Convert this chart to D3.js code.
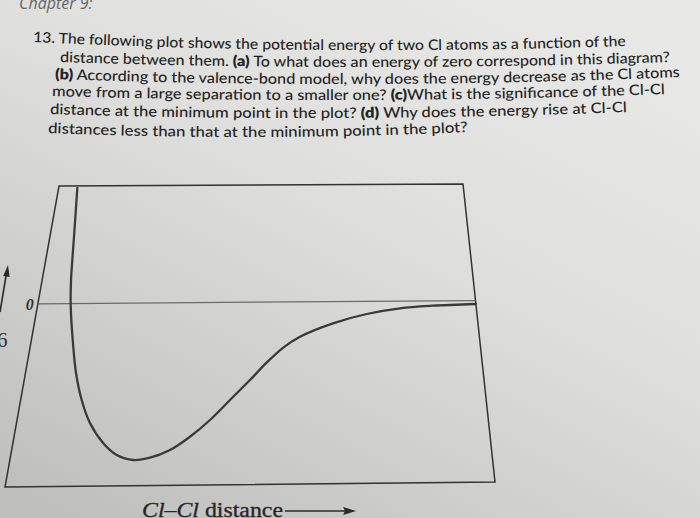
<!DOCTYPE html>
<html>
<head>
<meta charset="utf-8">
<script src="https://cdn.jsdelivr.net/npm/d3@7"></script>
<style>
  html, body { margin: 0; padding: 0; background: #d8d8d6; overflow: hidden; }
  svg { display: block; }
</style>
</head>
<body>
<svg id="chart" width="700" height="518"></svg>
<script>
// ---------------- data (arbitrary units) ----------------
const distance = [0.462, 0.577, 0.626, 0.671, 0.755, 0.924, 1.107, 1.315, 1.56, 1.897, 2.206, 2.562,
                  2.904, 3.306, 3.702, 4.101, 4.504, 4.916, 5.267, 5.627, 5.996, 6.737, 7.503, 8.265, 9.02, 10];
const energy   = [1.768, 1.018, 0.666, 0.361, -0.022, -0.558, -1.064, -1.479, -1.833, -2.145, -2.327, -2.406,
                  -2.373, -2.258, -2.057, -1.803, -1.499, -1.195, -0.93, -0.70, -0.535, -0.333, -0.194, -0.110, -0.074, -0.052];
const distanceDomain = [0, 10];
const energyDomain = [1.8, -2.8];
const zeroLevel = [0];
const xLabel = ["Cl–Cl", " distance"];
const yTickLabels = ["0"];
const header = "Chapter 9:";
const questionLines = [
  [["13. The following plot shows the potential energy of two Cl atoms as a function of the", false]],
  [["distance between them. ", false], ["(a)", true], [" To what does an energy of zero correspond in this diagram?", false]],
  [["(b)", true], [" According to the valence-bond model, why does the energy decrease as the Cl atoms", false]],
  [["move from a large separation to a smaller one? ", false], ["(c)", true], ["What is the significance of the Cl-Cl", false]],
  [["distance at the minimum point in the plot? ", false], ["(d)", true], [" Why does the energy rise at Cl-Cl", false]],
  [["distances less than that at the minimum point in the plot?", false]]
];

// ---------------- layout ----------------
const svg = d3.select("#chart");
const W = 700, H = 518;

// page background (photographed paper)
const defs = svg.append("defs");
const g1 = defs.append("linearGradient").attr("id", "paper")
  .attr("x1", "0.8").attr("y1", "0").attr("x2", "0.1").attr("y2", "1");
g1.append("stop").attr("offset", "0").attr("stop-color", "#e8e8e6");
g1.append("stop").attr("offset", "0.4").attr("stop-color", "#dfdfdd");
g1.append("stop").attr("offset", "1").attr("stop-color", "#bfbfbd");
svg.append("rect").attr("width", W).attr("height", H).attr("fill", "url(#paper)");

// header (cut off at the top of the photo)
svg.append("text").attr("x", 19).attr("y", 9)
  .attr("font-family", "Open Sans, sans-serif").attr("font-style", "italic")
  .attr("font-size", 16).attr("fill", "#666").text(header);

// question text, following the slight curl of the page
const lineGeom = [
  {x0: 33, x1: 626, y0: 42, y1: 46, ym: 50},
  {x0: 60, x1: 670, y0: 62, y1: 62, ym: 67},
  {x0: 55, x1: 680, y0: 79, y1: 77, ym: 84},
  {x0: 52, x1: 665, y0: 96, y1: 94, ym: 100},
  {x0: 50, x1: 627, y0: 114, y1: 112, ym: 118},
  {x0: 48, x1: 468, y0: 133, y1: 132, ym: 137}
];
questionLines.forEach((segs, i) => {
  const g = lineGeom[i];
  const yc = 2 * g.ym - (g.y0 + g.y1) / 2;
  const xc = (g.x0 + g.x1) / 2;
  const p = d3.path();
  p.moveTo(g.x0, g.y0);
  p.quadraticCurveTo(xc, yc, g.x1, g.y1);
  defs.append("path").attr("id", "ql" + i).attr("d", p.toString());
  const t = svg.append("text")
    .attr("font-family", "Lato, 'Open Sans', sans-serif")
    .attr("font-size", 14.6).attr("fill", "#242424")
    .attr("font-weight", 500);
  const tp = t.append("textPath").attr("href", "#ql" + i)
    .attr("textLength", g.x1 - g.x0).attr("lengthAdjust", "spacingAndGlyphs");
  segs.forEach(([s, b]) => {
    tp.append("tspan").attr("font-weight", b ? 800 : 500).text(s);
  });
});

// ---------------- chart: scales + perspective of the photographed box ----------------
const x = d3.scaleLinear().domain(distanceDomain).range([0, 1]);
const y = d3.scaleLinear().domain(energyDomain).range([0, 1]);
const TL = [59, 186], TR = [463, 184], BL = [5, 487], BR = [495, 482];
function proj(d, e) {
  const u = x(d), v = y(e);
  const px = (1 - u) * (1 - v) * TL[0] + u * (1 - v) * TR[0] + (1 - u) * v * BL[0] + u * v * BR[0];
  const py = (1 - u) * (1 - v) * TL[1] + u * (1 - v) * TR[1] + (1 - u) * v * BL[1] + u * v * BR[1];
  return [px, py];
}

const chart = svg.append("g");

// frame
const [d0, d1] = distanceDomain, [eT, eB] = energyDomain;
const frame = [[d0, eT], [d1, eT], [d1, eB], [d0, eB]].map(([d, e]) => proj(d, e));
chart.append("path")
  .attr("d", d3.line()(frame) + "Z")
  .attr("fill", "none").attr("stroke", "#333").attr("stroke-width", 1.5);

// zero line
zeroLevel.forEach(z => {
  chart.append("path")
    .attr("d", d3.line()([proj(d0, z), proj(d1, z)]))
    .attr("fill", "none").attr("stroke", "#6b6b6b").attr("stroke-width", 1.3);
});

// potential energy curve
const pts = distance.map((d, i) => proj(d, energy[i]));
chart.append("path")
  .attr("d", d3.line().curve(d3.curveCatmullRom.alpha(0.5))(pts))
  .attr("fill", "none").attr("stroke", "#3a3a3a").attr("stroke-width", 2.3)
  .attr("stroke-linecap", "round");

// y tick label "0"
const z0 = proj(d0, zeroLevel[0]);
svg.append("text").attr("x", z0[0] - 4).attr("y", z0[1] + 6)
  .attr("text-anchor", "end")
  .attr("font-family", "'Liberation Serif', serif").attr("font-style", "italic")
  .attr("font-weight", "bold").attr("font-size", 16).attr("fill", "#333")
  .text(yTickLabels[0]);

// y-axis arrow (cut off at the left edge of the photo)
svg.append("line").attr("x1", 0).attr("y1", 312).attr("x2", 6.5).attr("y2", 273)
  .attr("stroke", "#2a2a2a").attr("stroke-width", 1.6);
svg.append("path").attr("d", "M8,265 L3.2,276 L9.6,277 Z").attr("fill", "#2a2a2a");
// partly visible glyph of the y-axis title
svg.append("text").attr("x", -3).attr("y", 347)
  .attr("font-family", "'Liberation Serif', serif").attr("font-size", 21).attr("fill", "#333")
  .text("6");

// x-axis label + arrow
const xl = svg.append("text").attr("x", 142).attr("y", 517)
  .attr("font-family", "'Liberation Serif', serif").attr("font-size", 20).attr("fill", "#262626")
  .attr("stroke", "#262626").attr("stroke-width", 0.3)
  .attr("textLength", 141).attr("lengthAdjust", "spacingAndGlyphs");
xl.append("tspan").attr("font-style", "italic").text(xLabel[0]);
xl.append("tspan").text(xLabel[1]);
svg.append("line").attr("x1", 285).attr("y1", 511).attr("x2", 346).attr("y2", 511)
  .attr("stroke", "#2a2a2a").attr("stroke-width", 1.5);
svg.append("path").attr("d", "M356,511 L343,507 L345,511 L343,515 Z").attr("fill", "#2a2a2a");
</script>
</body>
</html>
